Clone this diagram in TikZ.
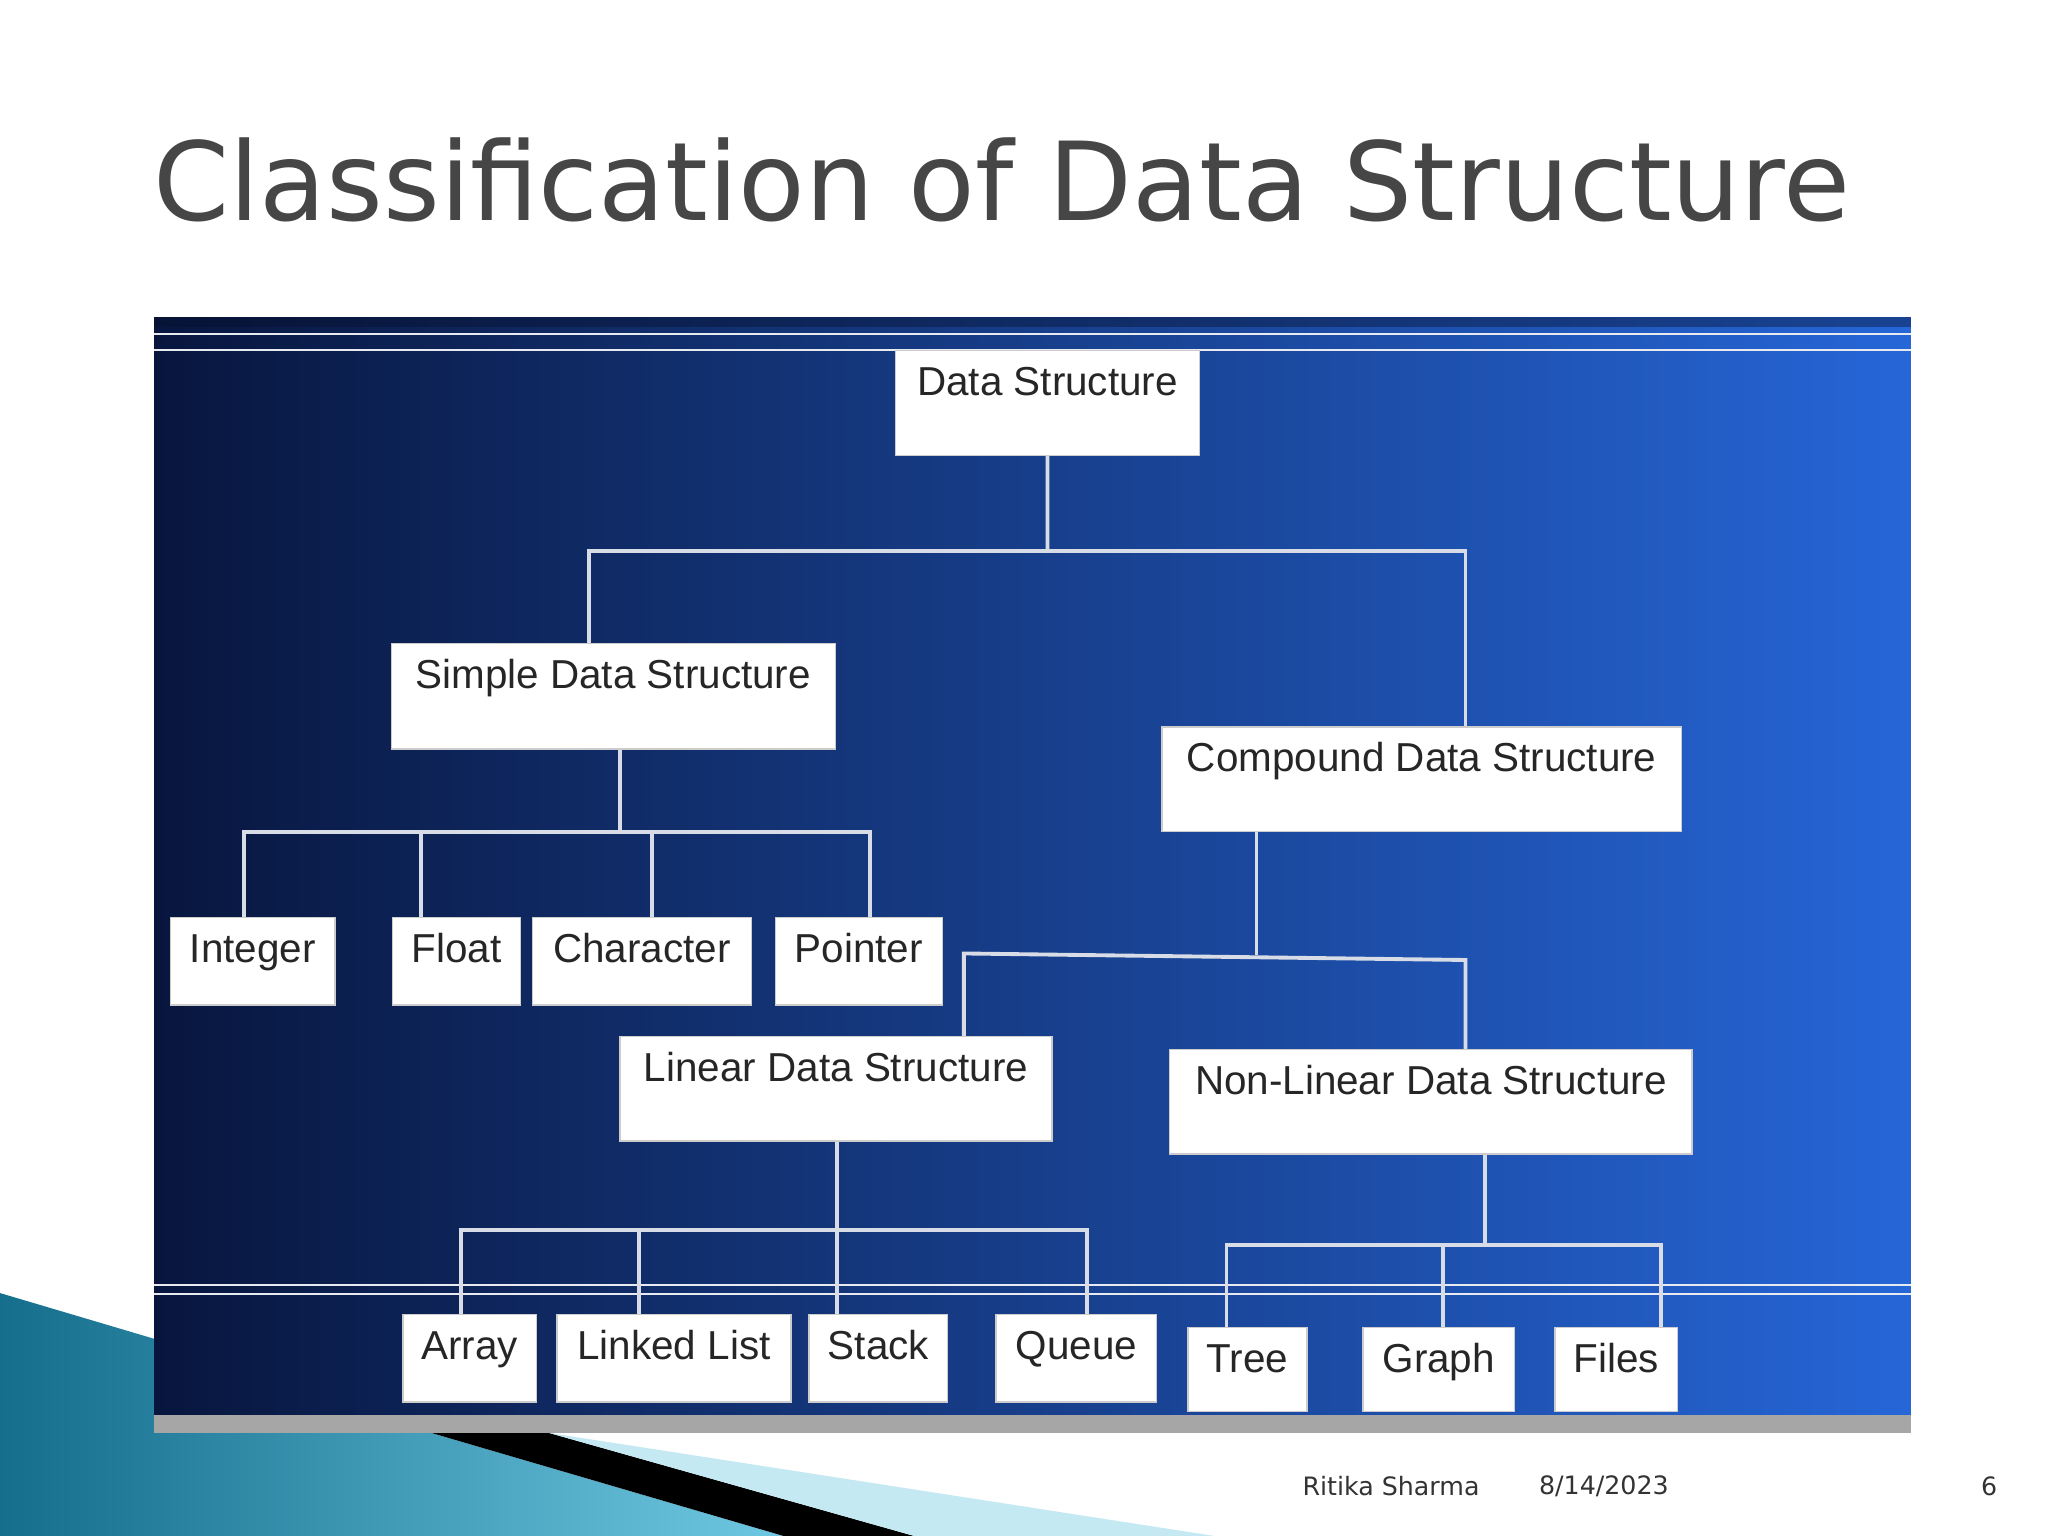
\documentclass[tikz,border=0pt]{standalone}
\usepackage{fontspec}
\setmainfont{Liberation Sans}
\newfontfamily\titlefont{DejaVu Sans}
\definecolor{titlegray}{RGB}{70,70,70}
\definecolor{navy}{RGB}{8,22,62}
\definecolor{brightblue}{RGB}{38,102,215}
\definecolor{linkgray}{RGB}{215,220,230}
\definecolor{tealdark}{RGB}{20,110,140}
\definecolor{teallight}{RGB}{110,200,225}
\tikzset{
  box/.style={draw=gray!40, fill=white, inner sep=0pt},
  lbl/.style={font=\fontsize{11.5}{13}\selectfont, text=black!85, inner sep=0pt},
  link/.style={draw=linkgray, line width=1.1pt},
  foot/.style={font=\titlefont\fontsize{7.2}{8}\selectfont, text=black!80},
}
% box: name, left, top, width, height, text
\newcommand\dsbox[6]{%
  \node[box, anchor=north west, minimum width=#4*0.01306cm, minimum height=#5*0.01306cm] (#1) at (#2,#3) {};
  \node[lbl, anchor=north] at ([yshift=-10*0.01306cm]#1.north) {\strut #6};}
\begin{document}
\begin{tikzpicture}[x=0.01306cm, y=-0.01306cm]
  \useasboundingbox (0,0) rectangle (1568,1176);
  % title
  \node[font=\titlefont\fontsize{31}{34}\selectfont, text=titlegray] (title) at (767,138) {Classification of Data Structure};
  % decoration bottom left
  \shade[left color=tealdark, right color=teallight] (0,990) -- (118,1025) -- (118,1097) -- (330,1097) -- (600,1176) -- (0,1176) -- cycle;
  \fill[black] (330,1097) -- (420,1097) -- (700,1176) -- (600,1176) -- cycle;
  \fill[teallight!40] (420,1097) -- (930,1176) -- (700,1176) -- cycle;
  % panel
  \shade[left color=navy, right color=brightblue] (118,243) rectangle (1463,1097);
  \fill[navy!70!black, opacity=0.4] (118,243) rectangle (1463,250);
  \draw[linkgray!60, line width=0.6pt] (118,256) -- (1463,256) (118,268) -- (1463,268)
       (118,984) -- (1463,984) (118,991) -- (1463,991);
  \fill[gray!70] (118,1083) rectangle (1463,1097);
  % boxes
  \dsbox{ds}{685}{268}{233}{80}{Data Structure}
  \dsbox{simple}{299}{492}{340}{81}{Simple Data Structure}
  \dsbox{compound}{889}{556}{398}{80}{Compound Data Structure}
  \dsbox{integer}{130}{702}{126}{67}{Integer}
  \dsbox{float}{300}{702}{98}{67}{Float}
  \dsbox{character}{407}{702}{168}{67}{Character}
  \dsbox{pointer}{593}{702}{128}{67}{Pointer}
  \dsbox{linear}{474}{793}{331}{80}{Linear Data Structure}
  \dsbox{nonlinear}{895}{803}{400}{80}{Non-Linear Data Structure}
  \dsbox{array}{308}{1006}{102}{67}{Array}
  \dsbox{linked}{426}{1006}{179}{67}{Linked List}
  \dsbox{stack}{619}{1006}{106}{67}{Stack}
  \dsbox{queue}{762}{1006}{123}{67}{Queue}
  \dsbox{tree}{909}{1016}{91}{64}{Tree}
  \dsbox{graph}{1043}{1016}{116}{64}{Graph}
  \dsbox{files}{1190}{1016}{94}{64}{Files}
  % connectors
  \draw[link] (ds.south) -- (802,422);
  \draw[link] (simple.north -| 451,0) |- (1122,422) -- (compound.north -| 1122,0);
  \draw[link] (simple.south -| 475,0) -- (475,637);
  \draw[link] (integer.north -| 187,0) |- (666,637) -- (pointer.north -| 666,0);
  \draw[link] (322,637) -- (float.north -| 322,0);
  \draw[link] (499,637) -- (character.north -| 499,0);
  \draw[link] (compound.south -| 962,0) -- (962,731);
  \draw[link] (linear.north -| 738,0) -- (738,730) -- (1122,735) -- (nonlinear.north -| 1122,0);
  \draw[link] (linear.south -| 641,0) -- (641,942);
  \draw[link] (array.north -| 353,0) |- (832,942) -- (queue.north -| 832,0);
  \draw[link] (489,942) -- (linked.north -| 489,0);
  \draw[link] (641,942) -- (stack.north -| 641,0);
  \draw[link] (nonlinear.south -| 1137,0) -- (1137,953);
  \draw[link] (tree.north -| 939,0) |- (1272,953) -- (files.north -| 1272,0);
  \draw[link] (1105,953) -- (graph.north -| 1105,0);
  % footer
  \node[foot] (author) at (1065,1138) {Ritika Sharma};
  \node[foot] (date) at (1228,1138) {8/14/2023};
  \node[foot] (page) at (1523,1138) {6};
\end{tikzpicture}
\end{document}
